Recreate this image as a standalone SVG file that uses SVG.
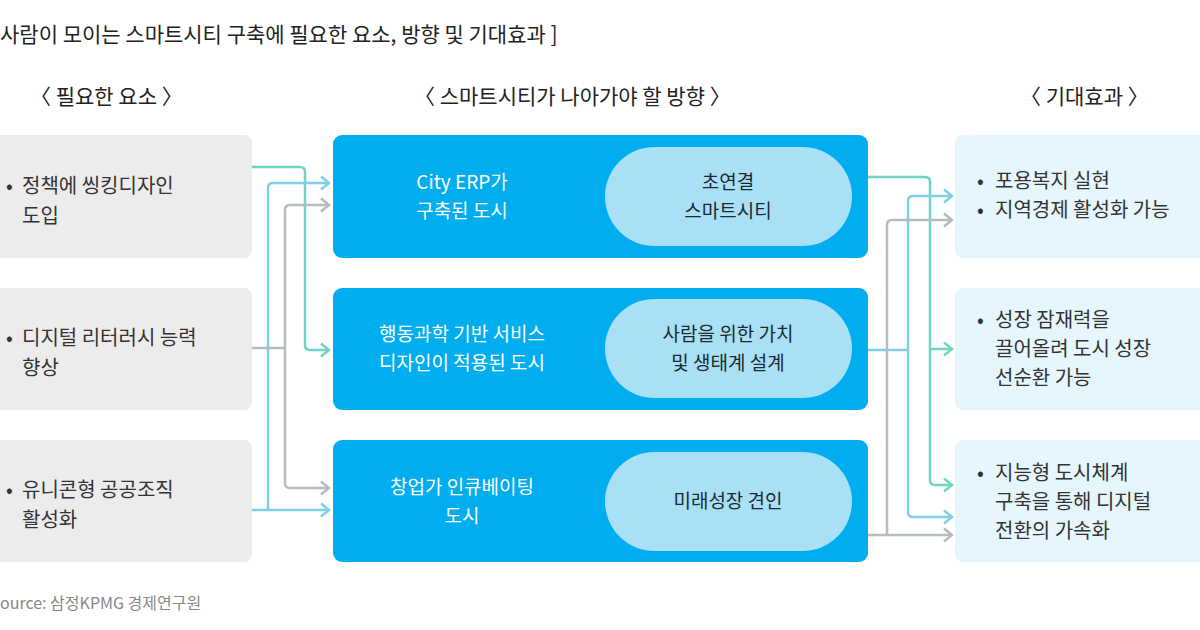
<svg xmlns="http://www.w3.org/2000/svg" width="1200" height="630" viewBox="0 0 1200 630">
<defs>
<style>
text{font-family:"Noto Sans CJK KR","Noto Sans",sans-serif;}
.t{font-size:20px;fill:#333}
.h{font-size:21px;fill:#222}
.w{font-size:19px;fill:#fff}
.p{font-size:19px;fill:#1a2a33}
.ln{fill:none;stroke-width:2.5}
.g{stroke:#b5bcc2}.c{stroke:#6fd4c4}.b{stroke:#7fcfe8}
</style>
<marker id="mg" viewBox="0 0 12 16" refX="10" refY="8" markerWidth="12" markerHeight="16" orient="auto" markerUnits="userSpaceOnUse"><path d="M2,1.5 L10,8 L2,14.5" fill="none" stroke="#b5bcc2" stroke-width="2.5"/></marker>
<marker id="mc" viewBox="0 0 12 16" refX="10" refY="8" markerWidth="12" markerHeight="16" orient="auto" markerUnits="userSpaceOnUse"><path d="M2,1.5 L10,8 L2,14.5" fill="none" stroke="#6fd4c4" stroke-width="2.5"/></marker>
<marker id="mb" viewBox="0 0 12 16" refX="10" refY="8" markerWidth="12" markerHeight="16" orient="auto" markerUnits="userSpaceOnUse"><path d="M2,1.5 L10,8 L2,14.5" fill="none" stroke="#7fcfe8" stroke-width="2.5"/></marker>
</defs>
<rect width="1200" height="630" fill="#fff"/>
<text x="0" y="42" class="h">사람이 모이는 스마트시티 구축에 필요한 요소, 방향 및 기대효과 ]</text>
<text x="30" y="104" class="h">〈 필요한 요소 〉</text>
<text x="414" y="104" class="h">〈 스마트시티가 나아가야 할 방향 〉</text>
<text x="1020" y="104" class="h">〈 기대효과 〉</text>
<g id="left">
<rect x="-10" y="135" width="262" height="123" rx="8" fill="#ececec"/>
<text class="t" x="6" y="193">•</text><text class="t" x="22" y="193">정책에 씽킹디자인</text><text class="t" x="22" y="223">도입</text>
<rect x="-10" y="288" width="262" height="122" rx="8" fill="#ececec"/>
<text class="t" x="6" y="345">•</text><text class="t" x="22" y="345">디지털 리터러시 능력</text><text class="t" x="22" y="375">향상</text>
<rect x="-10" y="440" width="262" height="122" rx="8" fill="#ececec"/>
<text class="t" x="6" y="497">•</text><text class="t" x="22" y="497">유니콘형 공공조직</text><text class="t" x="22" y="527">활성화</text>
</g>
<g id="mid1"><rect x="333" y="135" width="535" height="123" rx="9" fill="#00aeef"/>
<text class="w" x="462" y="189" text-anchor="middle">City ERP가</text><text class="w" x="462" y="218" text-anchor="middle">구축된 도시</text>
<rect x="605" y="147" width="247" height="99" rx="49.5" fill="#a9e0f5"/>
<text class="p" x="728" y="189" text-anchor="middle">초연결</text><text class="p" x="728" y="218" text-anchor="middle">스마트시티</text></g>
<g id="mid2"><rect x="333" y="288" width="535" height="122" rx="9" fill="#00aeef"/>
<text class="w" x="462" y="341" text-anchor="middle">행동과학 기반 서비스</text><text class="w" x="462" y="370" text-anchor="middle">디자인이 적용된 도시</text>
<rect x="605" y="299" width="247" height="99" rx="49.5" fill="#a9e0f5"/>
<text class="p" x="728" y="341" text-anchor="middle">사람을 위한 가치</text><text class="p" x="728" y="370" text-anchor="middle">및 생태계 설계</text></g>
<g id="mid3"><rect x="333" y="440" width="535" height="122" rx="9" fill="#00aeef"/>
<text class="w" x="462" y="494" text-anchor="middle">창업가 인큐베이팅</text><text class="w" x="462" y="523" text-anchor="middle">도시</text>
<rect x="605" y="452" width="247" height="99" rx="49.5" fill="#a9e0f5"/>
<text class="p" x="728" y="508" text-anchor="middle">미래성장 견인</text></g>
<g id="right">
<rect x="955" y="135" width="260" height="123" rx="8" fill="#e6f6fd"/>
<text class="t" x="977" y="188">•</text><text class="t" x="995" y="188">포용복지 실현</text>
<text class="t" x="977" y="217">•</text><text class="t" x="995" y="217">지역경제 활성화 가능</text>
<rect x="955" y="288" width="260" height="122" rx="8" fill="#e6f6fd"/>
<text class="t" x="977" y="327">•</text><text class="t" x="995" y="327">성장 잠재력을</text><text class="t" x="995" y="356">끌어올려 도시 성장</text><text class="t" x="995" y="385">선순환 가능</text>
<rect x="955" y="440" width="260" height="122" rx="8" fill="#e6f6fd"/>
<text class="t" x="977" y="480">•</text><text class="t" x="995" y="480">지능형 도시체계</text><text class="t" x="995" y="509">구축을 통해 디지털</text><text class="t" x="995" y="538">전환의 가속화</text>
</g>
<g id="connectors">
<path class="ln c" d="M252,167 H300 Q305,167 305,172 V345 Q305,350 310,350 H329" marker-end="url(#mc)"/>
<path class="ln b" d="M268,510 V188 Q268,183 273,183 H329" marker-end="url(#mb)"/>
<path class="ln g" d="M252,348 H285 M285,210 V483 Q285,488 290,488 H329" marker-end="url(#mg)"/>
<path class="ln g" d="M285,210 Q285,205 290,205 H329" marker-end="url(#mg)"/>
<path class="ln b" d="M252,510 H329" marker-end="url(#mb)"/>
<path class="ln c" d="M868,177 H925 Q930,177 930,182 V480 Q930,485 935,485 H952" marker-end="url(#mc)"/>
<path class="ln c" d="M930,349 H952" marker-end="url(#mc)"/>
<path class="ln b" d="M868,350 H908 M908,201 V512 Q908,517 913,517 H952" marker-end="url(#mb)"/>
<path class="ln b" d="M908,201 Q908,196 913,196 H952" marker-end="url(#mb)"/>
<path class="ln g" d="M868,535 H952" marker-end="url(#mg)"/>
<path class="ln g" d="M887,535 V225 Q887,220 892,220 H952" marker-end="url(#mg)"/>
</g>
<text x="0" y="609" font-size="16" fill="#888">ource: 삼정KPMG 경제연구원</text>
</svg>
